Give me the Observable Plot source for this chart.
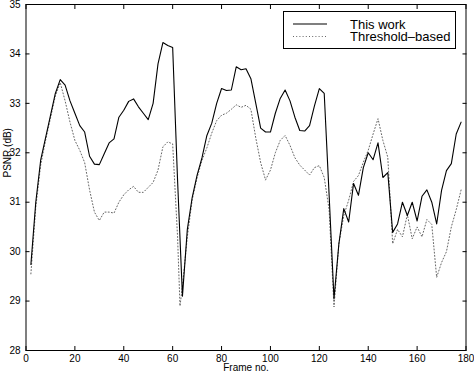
<!DOCTYPE html>
<html><head><meta charset="utf-8">
<script src="https://cdn.jsdelivr.net/npm/d3@7"></script>
<script src="https://cdn.jsdelivr.net/npm/@observablehq/plot@0.6"></script>
<style>
body{margin:0;background:#fff}
#wrap{position:relative;width:474px;height:374px;font-family:"Liberation Sans",Arial,sans-serif}
#legend{position:absolute;left:0;top:0;pointer-events:none}
</style>
</head><body><div id="wrap"></div>
<script>
const frames = [2,4,6,8,10,12,14,16,18,20,22,24,26,28,30,32,34,36,38,40,42,44,46,48,50,52,54,56,58,60,
  62,64,66,68,70,72,74,76,78,80,82,84,86,88,90,92,94,96,98,100,102,104,106,108,110,112,114,116,118,120,
  122,124,126,128,130,132,134,136,138,140,142,144,146,148,150,152,154,156,158,160,162,164,166,168,170,172,174,176,178];
const thisWork = [29.74,31.0,31.85,32.3,32.75,33.2,33.48,33.37,33.05,32.8,32.55,32.42,31.93,31.77,31.76,31.98,32.2,32.28,32.72,32.86,33.04,33.09,32.93,32.8,32.67,33.0,33.8,34.23,34.17,34.13,
  31.45,29.1,30.45,31.1,31.55,31.9,32.35,32.6,33.0,33.3,33.26,33.27,33.74,33.68,33.7,33.5,33.0,32.5,32.42,32.42,32.8,33.1,33.27,33.05,32.72,32.45,32.44,32.55,32.95,33.3,
  33.2,31.15,29.05,30.16,30.87,30.6,31.38,31.14,31.7,32.0,31.86,32.2,31.5,31.6,30.39,30.56,31.0,30.73,31.0,30.62,31.12,31.25,31.0,30.56,31.24,31.64,31.78,32.38,32.62];

const thrFrames = [2,4,6,8,10,12,14,16,18,20,22,24,26,28,30,32,34,36,38,40,42,44,46,48,50,52,54,56,58,60,
  62,63,64,66,68,70,72,74,76,78,80,82,84,86,88,90,92,94,96,98,100,102,104,106,108,110,112,114,116,118,120,
  122,124,126,128,130,132,134,136,138,140,142,144,146,148,150,152,154,156,158,160,162,164,166,168,170,172,174,176,178];
const thresholdBased = [29.55,30.9,31.75,32.25,32.7,33.15,33.42,33.05,32.62,32.25,32.05,31.8,31.25,30.8,30.63,30.8,30.8,30.78,31.0,31.15,31.25,31.32,31.2,31.2,31.3,31.4,31.65,32.12,32.22,32.18,
  30.3,28.9,29.3,30.3,31.05,31.5,31.85,32.1,32.4,32.65,32.76,32.8,32.88,32.97,32.92,32.96,32.88,32.3,31.8,31.45,31.65,32.0,32.25,32.35,32.15,31.9,31.75,31.65,31.55,31.7,31.74,
  31.5,30.85,28.88,30.16,30.73,31.04,31.42,31.54,31.81,32.05,32.38,32.69,32.25,31.91,30.16,30.45,30.3,30.75,30.26,30.5,30.3,30.65,30.55,29.48,29.78,30.0,30.5,30.85,31.25];

const xTicks = [0,20,40,60,80,100,120,140,160,180];
const yTicks = [28,29,30,31,32,33,34,35];
const seriesNames = ["This work", "Threshold\u2013based"];

const work = frames.map((f,i) => ({frame:f, psnr:thisWork[i]}));
const thr = thrFrames.map((f,i) => ({frame:f, psnr:thresholdBased[i]}));

const chart = Plot.plot({
  width: 474, height: 374,
  marginLeft: 25.5, marginRight: 8.5, marginTop: 4, marginBottom: 24,
  style: {fontFamily: "'Liberation Sans', Arial, sans-serif", fontSize: "10px", background: "white", color: "black", overflow: "visible"},
  x: {domain: [0,180]},
  y: {domain: [28,35]},
  marks: [
    Plot.line(thr, {x:"frame", y:"psnr", stroke:"#666", strokeWidth:1, strokeDasharray:"1,2.2"}),
    Plot.line(work, {x:"frame", y:"psnr", stroke:"black", strokeWidth:1.1}),
    Plot.frame({stroke:"black"}),
    Plot.axisX({ticks: xTicks, tickSize: -4, tickPadding: 8, tickFormat: d => String(d), label: null, fontSize: 10}),
    Plot.axisX({anchor:"top", ticks: xTicks, tickSize: -4, tickFormat: () => "", label: null}),
    Plot.axisY({ticks: yTicks, tickSize: -4, tickPadding: 9.5, tickFormat: d => String(d), label: null, fontSize: 10}),
    Plot.axisY({anchor:"right", ticks: yTicks, tickSize: -4, tickFormat: () => "", label: null}),
    Plot.text(["Frame no."], {text: d => d, frameAnchor: "bottom", dy: 17, lineAnchor: "middle", fontSize: 10}),
    Plot.text(["PSNR (dB)"], {text: d => d, frameAnchor: "left", dx: -18, rotate: -90, lineAnchor: "middle", fontSize: 10})
  ]
});
const wrap = document.getElementById("wrap");
wrap.appendChild(chart);

// legend overlay
const lg = d3.select(wrap).append("svg").attr("id","legend").attr("width",474).attr("height",374);
lg.append("rect").attr("x",283.5).attr("y",11.5).attr("width",172).attr("height",37)
  .attr("fill","white").attr("stroke","black").attr("stroke-width",1);
lg.append("line").attr("x1",293).attr("x2",327).attr("y1",24).attr("y2",24).attr("stroke","black").attr("stroke-width",1.1);
lg.append("line").attr("x1",293).attr("x2",327).attr("y1",36.5).attr("y2",36.5).attr("stroke","#666").attr("stroke-dasharray","1,2.2");
lg.append("text").attr("x",350).attr("y",28.5).attr("font-size",13).attr("font-family","'Liberation Sans', Arial, sans-serif").text(seriesNames[0]);
lg.append("text").attr("x",350).attr("y",41).attr("font-size",13).attr("font-family","'Liberation Sans', Arial, sans-serif").text(seriesNames[1]);
</script>
</body></html>
